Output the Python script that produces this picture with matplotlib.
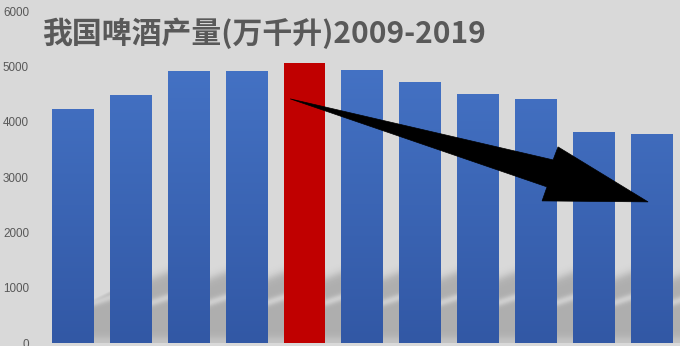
import matplotlib
matplotlib.use("Agg")
import matplotlib.pyplot as plt
from matplotlib.colors import to_rgb
from matplotlib.patches import Polygon
import numpy as np

years = [2009, 2010, 2011, 2012, 2013, 2014, 2015, 2016, 2017, 2018, 2019]
output = [4220, 4470, 4899, 4902, 5062, 4930, 4710, 4500, 4400, 3800, 3765]
highlight = 2013
yticks = [0, 1000, 2000, 3000, 4000, 5000, 6000]
title = "我国啤酒产量(万千升)2009-2019"

bg = "#d9d9d9"
blue_top = np.array(to_rgb("#4472c4"))
blue_bot = np.array(to_rgb("#3258a5"))
red = "#c00000"
text_gray = "#595959"
bw = 0.71

fig = plt.figure(figsize=(6.8, 3.46), dpi=100, facecolor=bg)
ax = fig.add_axes([43.5 / 680, 3 / 346, 637 / 680, 332 / 346])
ax.set_facecolor(bg)

# soft shadow behind the bars (shows in the gaps)
xs = np.linspace(-0.5, len(years) - 0.5, 1400)
ys = np.linspace(0, 1700, 300)
X, Y = np.meshgrid(xs, ys)
gap = 1 - bw
t = np.clip(((X - bw / 2) % 1.0) / gap, 0, 1)
top = 1150 + 120 * t
alpha = 0.2 / (1 + np.exp(-(top - Y) / 45))
streak = 0.75 * np.exp(-((Y - (720 + 100 * t)) / 70) ** 2)
alpha = alpha * (1 - streak)
alpha = alpha * (1 - 0.5 * np.exp(-(Y / 120) ** 2))
alpha[X < bw / 2] = 0
first = (X < 1 - bw / 2)
alpha[first] *= np.clip((760 + 150 * t[first] - Y[first]) / 60 + 0.5, 0, 1)
shadow = np.zeros(X.shape + (4,))
shadow[..., 3] = alpha
ax.imshow(shadow, extent=[xs[0], xs[-1], 0, 1700], origin="lower",
          aspect="auto", zorder=1, interpolation="bilinear")

# bars
for i, (yr, v) in enumerate(zip(years, output)):
    if yr == highlight:
        ax.bar(i, v, width=bw, color=red, zorder=2)
    else:
        f = np.linspace(0, v / 5000, 100)[:, None]
        grad = blue_bot + (blue_top - blue_bot) * np.clip(f, 0, 1)[..., None]
        ax.imshow(grad, extent=[i - bw / 2, i + bw / 2, 0, v], origin="lower",
                  aspect="auto", zorder=2)

ax.set_xlim(-0.5, len(years) - 0.5)
ax.set_ylim(0, 6000)

# trend arrow
arrow = [(3.76, 4412), (8.30, 3309), (8.385, 3544), (9.94, 2550),
         (8.11, 2568), (8.195, 2821)]
ax.add_patch(Polygon(arrow, closed=True, facecolor="black", edgecolor="black",
                     lw=0.5, zorder=3))

for s in ax.spines.values():
    s.set_visible(False)
ax.set_xticks([])
ax.set_yticks(yticks)
ax.tick_params(axis="y", length=0, pad=10.5, labelcolor=text_gray)
for lab in ax.get_yticklabels():
    lab.set_fontfamily("Liberation Sans")
    lab.set_fontsize(8.4)

fig.text(42 / 680, 1 - 33 / 346, title, ha="left", va="center",
         fontsize=21.5, fontweight="bold", color=text_gray,
         family=["Noto Sans CJK SC", "DejaVu Sans"])

fig.savefig("out.png", dpi=100, facecolor=bg)
